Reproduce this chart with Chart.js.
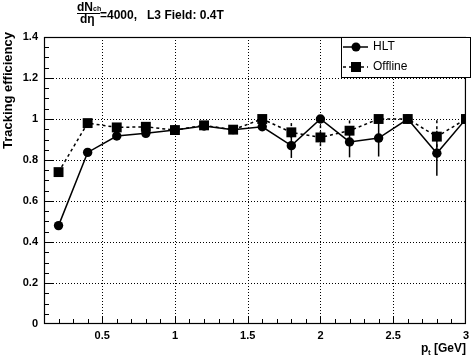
<!DOCTYPE html>
<html>
<head>
<meta charset="utf-8">
<script src="https://cdn.jsdelivr.net/npm/chart.js@4/dist/chart.umd.min.js"></script>
<style>
  body { margin: 0; background: #fff; }
</style>
</head>
<body>
<canvas id="effChart" width="474" height="361"></canvas>
<script>
// Data
const ptValues = [0.2, 0.4, 0.6, 0.8, 1.0, 1.2, 1.4, 1.6, 1.8, 2.0, 2.2, 2.4, 2.6, 2.8, 3.0];
const hltEff = [0.48, 0.837, 0.917, 0.93, 0.946, 0.966, 0.948, 0.962, 0.87, 1.0, 0.888, 0.907, 1.0, 0.833, 1.0];
const hltErr = [0, 0, 0, 0, 0, 0, 0, 0.02, 0.06, 0, 0.075, 0.09, 0, 0.11, 0];
const offlineEff = [0.741, 0.98, 0.959, 0.962, 0.946, 0.969, 0.948, 1.0, 0.935, 0.91, 0.943, 1.0, 1.0, 0.914, 1.0];
const offlineErr = [0, 0, 0, 0, 0, 0, 0, 0, 0.045, 0.06, 0.05, 0, 0, 0.08, 0];
const xTickLabels = [0.5, 1, 1.5, 2, 2.5, 3];
const yTickLabels = [0, 0.2, 0.4, 0.6, 0.8, 1, 1.2, 1.4];
const legendLabels = ['HLT', 'Offline'];

const FONT = "'Liberation Sans', Arial, sans-serif";

// frame, dotted grid and inward ticks (ROOT style)
const framePlugin = {
    id: 'frame',
    beforeDatasetsDraw(chart) {
        const { ctx, chartArea: a, scales: { x, y } } = chart;
        ctx.save();
        ctx.strokeStyle = '#000';
        ctx.lineWidth = 1;
        ctx.setLineDash([1, 2]);
        xTickLabels.forEach(v => {
            const px = Math.round(x.getPixelForValue(v)) + 0.5;
            if (px > a.right - 2) return;
            ctx.beginPath(); ctx.moveTo(px, a.top); ctx.lineTo(px, a.bottom); ctx.stroke();
        });
        yTickLabels.forEach(v => {
            const py = Math.round(y.getPixelForValue(v)) + 0.5;
            if (py < a.top + 2 || py > a.bottom - 2) return;
            ctx.beginPath(); ctx.moveTo(a.left, py); ctx.lineTo(a.right, py); ctx.stroke();
        });
        ctx.setLineDash([]);
        // minor + major ticks
        ctx.lineWidth = 1;
        for (let i = 1; i <= 29; i++) {
            const v = i / 10;
            const px = Math.round(x.getPixelForValue(v)) + 0.5;
            const major = Math.abs(v * 2 - Math.round(v * 2)) < 1e-6;
            const len = major ? 8 : 5;
            ctx.beginPath(); ctx.moveTo(px, a.bottom); ctx.lineTo(px, a.bottom - len); ctx.stroke();
        }
        for (let i = 1; i < 28; i++) {
            const v = i * 0.05;
            const py = Math.round(y.getPixelForValue(v)) + 0.5;
            const major = i % 4 === 0;
            const len = major ? 9 : 5;
            ctx.beginPath(); ctx.moveTo(a.left, py); ctx.lineTo(a.left + len, py); ctx.stroke();
        }
        // frame
        ctx.lineWidth = 1.2;
        ctx.strokeRect(a.left + 0.5, a.top + 0.5, a.right - a.left - 1, a.bottom - a.top - 1);

        // error bars
        const drawErr = (vals, errs, dash) => {
            ctx.setLineDash(dash);
            ctx.lineWidth = 1.5;
            vals.forEach((v, i) => {
                if (!errs[i]) return;
                const px = x.getPixelForValue(ptValues[i]);
                ctx.beginPath();
                ctx.moveTo(px, y.getPixelForValue(Math.min(v + errs[i], 1.4)));
                ctx.lineTo(px, y.getPixelForValue(v - errs[i]));
                ctx.stroke();
            });
        };
        drawErr(offlineEff, offlineErr, [3, 3]);
        drawErr(hltEff, hltErr, []);
        ctx.restore();
    },
    afterDraw(chart) {
        const { ctx, chartArea: a } = chart;
        ctx.save();
        ctx.fillStyle = '#000';
        ctx.strokeStyle = '#000';

        // title: dNch/deta = 4000, L3 Field: 0.4T
        ctx.font = 'bold 12px ' + FONT;
        ctx.textBaseline = 'alphabetic';
        ctx.textAlign = 'left';
        ctx.fillText('dN', 77, 11);
        ctx.font = 'bold 7px ' + FONT;
        ctx.fillText('ch', 93, 11);
        ctx.lineWidth = 1;
        ctx.beginPath(); ctx.moveTo(77, 13.5); ctx.lineTo(100, 13.5); ctx.stroke();
        ctx.font = 'bold 12px ' + FONT;
        ctx.fillText('d\u03B7', 80, 23);
        ctx.fillText('=4000,   L3 Field: 0.4T', 100, 19);

        // y title
        ctx.save();
        ctx.translate(12, 32);
        ctx.rotate(-Math.PI / 2);
        ctx.textAlign = 'right';
        ctx.font = 'bold 13px ' + FONT;
        ctx.fillText('Tracking efficiency', 0, 0);
        ctx.restore();

        // x title
        ctx.textAlign = 'left';
        ctx.font = 'bold 12px ' + FONT;
        ctx.fillText('p', 421, 352);
        ctx.font = 'bold 8px ' + FONT;
        ctx.fillText('t', 428, 355);
        ctx.font = 'bold 12px ' + FONT;
        ctx.fillText('[GeV]', 434, 352);

        // legend box
        const lx = 341, ly = a.top, lw = 130, lh = 41;
        ctx.fillStyle = '#fff';
        ctx.fillRect(lx, ly, lw, lh);
        ctx.lineWidth = 1;
        ctx.strokeRect(lx + 0.5, ly + 0.5, lw - 1, lh - 1);
        ctx.fillStyle = '#000';
        ctx.font = '12px ' + FONT;
        ctx.textBaseline = 'middle';
        // HLT
        ctx.lineWidth = 1.5;
        ctx.beginPath(); ctx.moveTo(343, 47); ctx.lineTo(368, 47); ctx.stroke();
        ctx.beginPath(); ctx.arc(356, 47, 4.5, 0, Math.PI * 2); ctx.fill();
        ctx.fillText(legendLabels[0], 373, 47);
        // Offline
        ctx.setLineDash([3, 3]);
        ctx.beginPath(); ctx.moveTo(343, 67); ctx.lineTo(368, 67); ctx.stroke();
        ctx.setLineDash([]);
        ctx.fillRect(351, 62, 10, 10);
        ctx.fillText(legendLabels[1], 373, 67);
        ctx.restore();
    }
};

const ctx = document.getElementById('effChart').getContext('2d');
new Chart(ctx, {
    type: 'line',
    data: {
        datasets: [
            {
                label: legendLabels[0],
                data: ptValues.map((p, i) => ({ x: p, y: hltEff[i] })),
                borderColor: '#000',
                backgroundColor: '#000',
                borderWidth: 1.5,
                pointStyle: 'circle',
                pointRadius: 4.7,
                pointBorderWidth: 0,
                tension: 0
            },
            {
                label: legendLabels[1],
                data: ptValues.map((p, i) => ({ x: p, y: offlineEff[i] })),
                borderColor: '#000',
                backgroundColor: '#000',
                borderWidth: 1.5,
                borderDash: [3, 3],
                pointStyle: 'rect',
                pointRadius: 7,
                pointBorderWidth: 0,
                tension: 0
            }
        ]
    },
    options: {
        responsive: false,
        animation: false,
        layout: { padding: { top: 37, right: 7, left: 0, bottom: 0 } },
        plugins: {
            legend: { display: false },
            tooltip: { enabled: false }
        },
        scales: {
            x: {
                type: 'linear',
                min: 0.1,
                max: 3,
                afterBuildTicks: scale => { scale.ticks = xTickLabels.map(v => ({ value: v })); },
                afterFit: scale => { scale.height = 37; },
                grid: { display: false, drawTicks: false },
                border: { display: false },
                ticks: {
                    color: '#000',
                    font: { family: FONT, size: 11, weight: 'bold' },
                    padding: 5,
                    maxRotation: 0,
                    autoSkip: false,
                    callback: v => String(v)
                }
            },
            y: {
                type: 'linear',
                min: 0,
                max: 1.4,
                afterBuildTicks: scale => { scale.ticks = yTickLabels.map(v => ({ value: v })); },
                afterFit: scale => { scale.width = 44; },
                grid: { display: false, drawTicks: false },
                border: { display: false },
                ticks: {
                    color: '#000',
                    font: { family: FONT, size: 11, weight: 'bold' },
                    padding: 6,
                    autoSkip: false,
                    callback: v => String(v)
                }
            }
        }
    },
    plugins: [framePlugin]
});
</script>
</body>
</html>
